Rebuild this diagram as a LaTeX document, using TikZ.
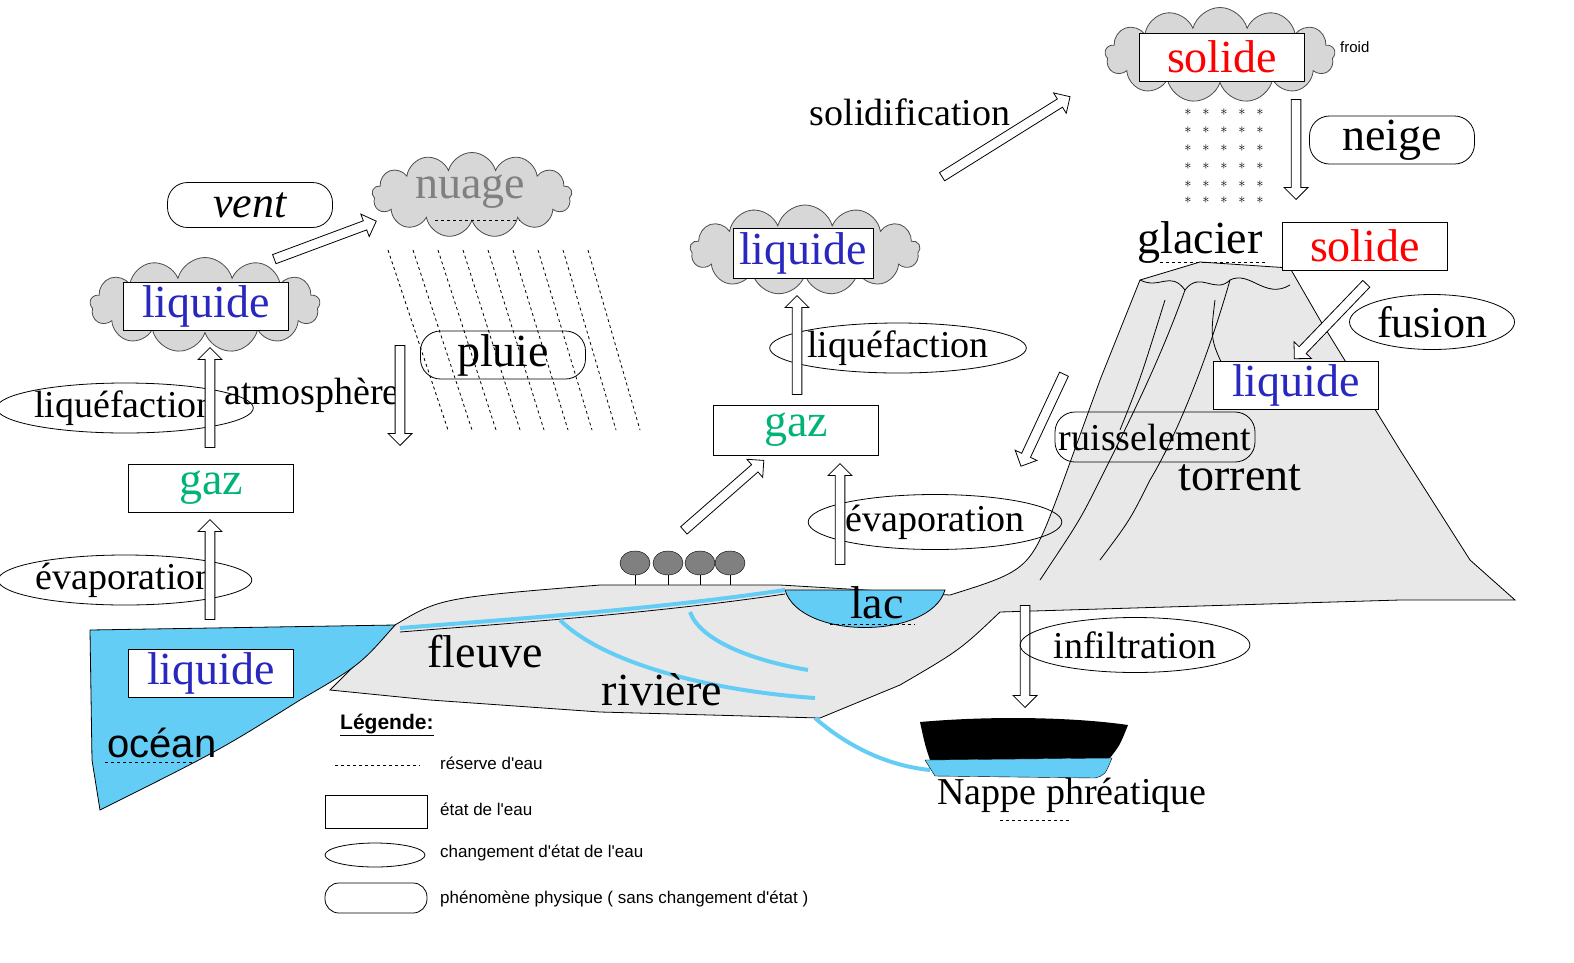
\documentclass[tikz,border=0pt]{standalone}
\usepackage{fontspec}
\setmainfont{Liberation Serif}
\newfontfamily\sansf{Liberation Sans}
\usetikzlibrary{shapes.symbols,shapes.arrows,shapes.geometric,calc}
\definecolor{liq}{RGB}{40,40,190}
\definecolor{gz}{RGB}{0,180,120}
\definecolor{wat}{RGB}{100,205,245}
\definecolor{land}{RGB}{232,232,232}
\definecolor{cl}{RGB}{215,215,215}
\tikzset{
 box/.style={draw,thick,fill=white,minimum width=165pt,minimum height=48pt,inner sep=0pt,font=\fontsize{46}{46}\selectfont},
 ell/.style={draw,thick,ellipse,inner sep=0pt,font=\fontsize{38}{38}\selectfont},
 phen/.style={draw,thick,rounded corners=20pt,inner sep=0pt,font=\fontsize{46}{46}\selectfont},
 lab/.style={inner sep=0pt,font=\fontsize{38}{38}\selectfont},
 big/.style={inner sep=0pt,font=\fontsize{46}{46}\selectfont},
 nuag/.style={cloud,cloud puffs=13,draw=black!70,fill=cl,thick},
 harrow/.style={single arrow,draw,thick,fill=white,minimum width=24pt,single arrow head extend=5pt,single arrow head indent=0pt,inner sep=3pt},
 res/.style={dashed,thick},
 leg/.style={inner sep=0pt,anchor=west,font=\sansf\fontsize{17}{17}\selectfont}
}
\newcommand\harr[3]{\path let \p1=($(#3)-(#2)$), \n1={veclen(\x1,\y1)} in (#2) -- (#3) node[midway,sloped,allow upside down,harrow,minimum height=\n1] (#1) {};}
\begin{document}
\begin{tikzpicture}[x=1pt,y=-1pt]
\useasboundingbox (0,0) rectangle (1574,962);
% land
\fill[land,draw=black,thick] (330,690) -- (395,625) .. controls (440,598) .. (600,585) -- (780,585) -- (950,595)
 .. controls (1030,570) .. (1060,490) -- (1100,380) -- (1140,280) -- (1200,262) -- (1290,268) -- (1320,320)
 -- (1400,450) -- (1470,560) -- (1515,600) -- (1400,600) -- (1000,612) .. controls (960,650) .. (900,685)
 -- (820,718) -- (600,712) -- (430,700) -- cycle;
% mountain details
\draw[thick] (1140,280) .. controls (1160,290) and (1170,270) .. (1185,290) .. controls (1200,270) and (1215,295) .. (1230,280) .. controls (1250,270) and (1265,300) .. (1290,285);
\draw[thick] (1185,290) .. controls (1160,360) and (1130,420) .. (1100,480) .. controls (1080,520) .. (1040,580);
\draw[thick] (1230,280) .. controls (1210,350) and (1180,430) .. (1150,480) .. controls (1130,520) .. (1100,560);
\draw[thick] (1165,300) .. controls (1140,380) .. (1120,430);
\draw[thick] (1215,300) .. controls (1210,340) .. (1230,380);
% ocean
\fill[wat,draw=black,thick] (90,630) -- (395,625) .. controls (360,665) .. (300,700) .. controls (220,750) .. (100,810) -- (92,760) -- cycle;
% lake
\fill[wat,draw=black,thick] (785,590) .. controls (800,640) and (930,640) .. (945,590) -- cycle;
% rivers
\draw[wat,line width=4pt] (400,628) .. controls (500,620) and (650,610) .. (785,590);
\draw[black,thick] (400,632) .. controls (500,624) and (650,614) .. (785,594);
\draw[wat,line width=4pt] (560,620) .. controls (600,660) and (700,690) .. (815,698);
\draw[wat,line width=4pt] (690,612) .. controls (700,640) and (750,660) .. (808,670);
\draw[wat,line width=4pt] (815,718) .. controls (840,740) and (880,765) .. (930,770);
% nappe
\fill[black] (920,722) .. controls (1000,715) and (1080,718) .. (1128,725) .. controls (1120,745) .. (1110,758) -- (930,760) .. controls (925,745) .. (920,722);
\fill[wat,draw=black] (925,760) -- (1112,758) .. controls (1105,775) .. (1095,778) -- (935,776) -- cycle;
% trees
\foreach \x in {635,668,700,730}{
 \draw[thick] (\x,568) -- (\x,585);
 \fill[gray,draw=black] (\x,563) ellipse (15pt and 12pt);}
% clouds
\node[nuag,minimum width=230pt,minimum height=95pt] (c1) at (205,305) {};
\node[nuag,minimum width=200pt,minimum height=85pt] (c2) at (472,195) {};
\node[nuag,minimum width=230pt,minimum height=90pt] (c3) at (805,250) {};
\node[nuag,minimum width=230pt,minimum height=95pt] (c4) at (1220,55) {};
% rain
\foreach \i in {0,...,8}{\draw[dashed,thick] ({388+\i*25},250) -- ({448+\i*24},430);}
% snow
\foreach \x in {1188,1206,1224,1242,1260}{\foreach \y in {112,130,148,166,184,200}{\node[inner sep=0pt,font=\Large] at (\x,\y) {$\ast$};}}
% left column
\node[phen,minimum width=165pt,minimum height=45pt,font=\fontsize{44}{44}\selectfont\itshape] (vent) at (250,205) {vent};
\node[big,text=gray] (nuage) at (470,192) {nuage};
\draw[res] (435,220) -- (520,220);
\node[box,text=liq] (liq1) at (206,306) {liquide};
\node[ell,minimum width=180pt,minimum height=50pt] (lq1) at (125,408) {liquéfaction};
\node[lab] (atm) at (312,395) {atmosphère};
\node[box,text=gz] (gaz1) at (211,488) {gaz};
\node[ell,minimum width=185pt,minimum height=50pt] (ev1) at (125,580) {évaporation};
\node[box,text=liq] (liq2) at (211,673) {liquide};
\node[big,font=\sansf\fontsize{40}{40}\selectfont] (ocean) at (162,743) {océan};
\draw[res] (105,762) -- (195,762);
\node[big] (fleuve) at (485,652) {fleuve};
\node[big] (riv) at (662,690) {rivière};
\node[phen,minimum width=165pt,minimum height=48pt] (pluie) at (503,355) {pluie};
\coordinate (a1s) at (210,450); \coordinate (a1e) at (210,350);
\harr{A1}{a1s}{a1e}
\coordinate (a2s) at (210,622); \coordinate (a2e) at (210,522);
\harr{A2}{a2s}{a2e}
\coordinate (a3s) at (400,343); \coordinate (a3e) at (400,443);
\harr{A3}{a3s}{a3e}
\coordinate (a4s) at (272,260); \coordinate (a4e) at (374,222);
\harr{A4}{a4s}{a4e}
% middle
\node[box,minimum width=140pt,minimum height=50pt,text=liq] (liq3) at (803,253) {liquide};
\node[ell,minimum width=200pt,minimum height=50pt] (lq2) at (898,348) {liquéfaction};
\node[box,text=gz,minimum height=50pt] (gaz2) at (796,430) {gaz};
\node[ell,minimum width=200pt,minimum height=55pt] (ev2) at (935,522) {évaporation};
\node[big] (lac) at (877,603) {lac};
\draw[res] (830,624) -- (915,624);
\coordinate (a5s) at (797,397); \coordinate (a5e) at (797,298);
\harr{A5}{a5s}{a5e}
\coordinate (a6s) at (682,532); \coordinate (a6e) at (762,462);
\harr{A6}{a6s}{a6e}
\coordinate (a7s) at (840,567); \coordinate (a7e) at (840,466);
\harr{A7}{a7s}{a7e}
% top right
\node[lab] (sol) at (910,112) {solidification};
\coordinate (a8s) at (940,178); \coordinate (a8e) at (1068,98);
\harr{A8}{a8s}{a8e}
\node[box,text=red,minimum height=48pt] (sol1) at (1222,57) {solide};
\node[leg,font=\sansf\fontsize{15}{15}\selectfont] (froid) at (1340,47) {froid};
\coordinate (a9s) at (1296,97); \coordinate (a9e) at (1296,197);
\harr{A9}{a9s}{a9e}
\node[phen,minimum width=165pt,minimum height=48pt] (neige) at (1392,140) {neige};
\node[big] (glacier) at (1200,242) {glacier};
\draw[res] (1160,262) -- (1265,262);
\node[box,text=red] (sol2) at (1365,246) {solide};
\node[ell,minimum width=165pt,minimum height=55pt,font=\fontsize{44}{44}\selectfont] (fus) at (1432,322) {fusion};
\coordinate (a10s) at (1368,282); \coordinate (a10e) at (1296,357);
\harr{A10}{a10s}{a10e}
\node[box,text=liq] (liq4) at (1296,385) {liquide};
\coordinate (a11s) at (1065,372); \coordinate (a11e) at (1022,464);
\harr{A11}{a11s}{a11e}
\node[phen,minimum width=200pt,minimum height=50pt,font=\fontsize{38}{38}\selectfont] (ruis) at (1155,437) {ruisselement};
\node[big] (torr) at (1240,478) {torrent};
\coordinate (a12s) at (1025,603); \coordinate (a12e) at (1025,705);
\harr{A12}{a12s}{a12e}
\node[ell,minimum width=185pt,minimum height=55pt] (inf) at (1135,645) {infiltration};
\node[lab] (nappe) at (1072,795) {Nappe phréatique};
\draw[res] (1000,820) -- (1070,820);
% legend
\node[leg,font=\sansf\bfseries\fontsize{21}{21}\selectfont] (legt) at (340,725) {\underline{Légende:}};
\draw[res] (335,765) -- (420,765);
\node[leg] (l1) at (440,763) {réserve d'eau};
\draw[thick] (325,795) rectangle (427,828);
\node[leg] (l2) at (440,809) {état de l'eau};
\node[ell,thick,minimum width=100pt,minimum height=24pt] (le) at (375,855) {};
\node[leg] (l3) at (440,853) {changement d'état de l'eau};
\draw[thick,rounded corners=14pt] (325,883) rectangle (427,913);
\node[leg] (l4) at (440,899) {phénomène physique ( sans changement d'état )};
\end{tikzpicture}
\end{document}
